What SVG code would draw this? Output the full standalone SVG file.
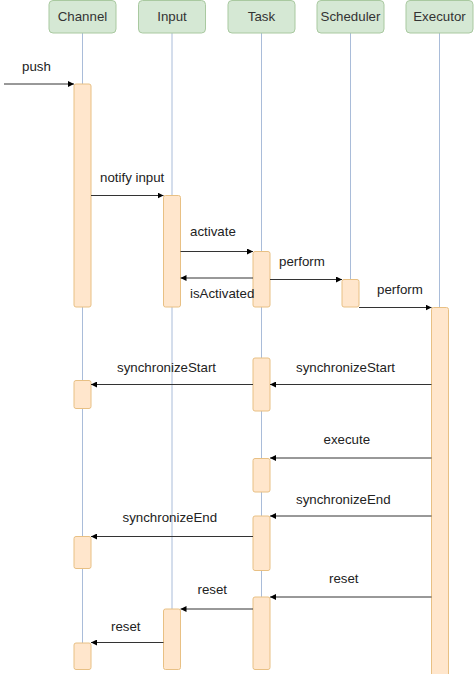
<svg xmlns="http://www.w3.org/2000/svg" width="474" height="674" viewBox="0 0 474 674">
<defs>
<style>
.hdr{fill:#d5e8d4;stroke:#a9c9a0;stroke-width:1}
.hdrt{font-family:"Liberation Sans",Arial,sans-serif;font-size:13.3px;fill:#333;text-anchor:middle}
.life{stroke:#a9bcd9;stroke-width:1;fill:none}
.act{fill:#ffe6cc;stroke:#e8c084;stroke-width:1}
.msg{stroke:#333;stroke-width:1;fill:none;marker-end:url(#ah)}
.lbl{font-family:"Liberation Sans",Arial,sans-serif;font-size:13.3px;fill:#222}
</style>
<marker id="ah" viewBox="0 0 8 8" refX="8" refY="4" markerWidth="6" markerHeight="6" markerUnits="userSpaceOnUse" orient="auto">
<path d="M0,0 L8,4 L0,8 Z" fill="#000"/>
</marker>
</defs>
<rect width="474" height="674" fill="#fff"/>
<g id="lifelines">
<line class="life" x1="82.5" y1="33" x2="82.5" y2="643"/>
<line class="life" x1="172" y1="33" x2="172" y2="609"/>
<line class="life" x1="261.5" y1="33" x2="261.5" y2="597"/>
<line class="life" x1="350.5" y1="33" x2="350.5" y2="279"/>
<line class="life" x1="439.5" y1="33" x2="439.5" y2="307"/>
</g>
<g id="channel"><rect class="hdr" x="49" y="0.5" width="67" height="32.5" rx="4"/><text class="hdrt" x="82.5" y="21">Channel</text></g>
<g id="input"><rect class="hdr" x="138.5" y="0.5" width="67" height="32.5" rx="4"/><text class="hdrt" x="172" y="21">Input</text></g>
<g id="task"><rect class="hdr" x="228" y="0.5" width="67" height="32.5" rx="4"/><text class="hdrt" x="261.5" y="21">Task</text></g>
<g id="scheduler"><rect class="hdr" x="317" y="0.5" width="67" height="32.5" rx="4"/><text class="hdrt" x="350.5" y="21">Scheduler</text></g>
<g id="executor"><rect class="hdr" x="406" y="0.5" width="67" height="32.5" rx="4"/><text class="hdrt" x="439.5" y="21">Executor</text></g>
<g id="activations">
<rect id="act-channel-1" class="act" x="74" y="84" width="17" height="223" rx="2"/>
<rect id="act-input-1" class="act" x="163.5" y="195.5" width="17" height="111.5" rx="2"/>
<rect id="act-task-1" class="act" x="253" y="251.5" width="17" height="55.5" rx="2"/>
<rect id="act-scheduler-1" class="act" x="342" y="279.5" width="17" height="27.5" rx="2"/>
<rect id="act-executor-1" class="act" x="431.5" y="307.5" width="17" height="370" rx="2"/>
<rect id="act-task-2" class="act" x="253" y="358" width="17" height="53" rx="2"/>
<rect id="act-channel-2" class="act" x="74" y="380.5" width="17" height="28" rx="2"/>
<rect id="act-task-3" class="act" x="253" y="458.5" width="17" height="33.5" rx="2"/>
<rect id="act-task-4" class="act" x="253" y="516" width="17" height="54.5" rx="2"/>
<rect id="act-channel-3" class="act" x="74" y="536.5" width="17" height="32" rx="2"/>
<rect id="act-task-5" class="act" x="253" y="597" width="17" height="72.5" rx="2"/>
<rect id="act-input-2" class="act" x="163.5" y="609" width="17" height="60.5" rx="2"/>
<rect id="act-channel-4" class="act" x="74" y="643" width="17" height="26.5" rx="2"/>
</g>
<g id="connectors">
<line class="msg" x1="4" y1="84" x2="74" y2="84"/>
<line class="msg" x1="91" y1="195.5" x2="163.5" y2="195.5"/>
<line class="msg" x1="180.5" y1="251.5" x2="253" y2="251.5"/>
<line class="msg" x1="253" y1="278" x2="180.5" y2="278"/>
<line class="msg" x1="270" y1="279.5" x2="342" y2="279.5"/>
<line class="msg" x1="359" y1="307.5" x2="431.5" y2="307.5"/>
<line class="msg" x1="431.5" y1="384.5" x2="270" y2="384.5"/>
<line class="msg" x1="253" y1="384.5" x2="91" y2="384.5"/>
<line class="msg" x1="431.5" y1="458" x2="270" y2="458"/>
<line class="msg" x1="431.5" y1="516" x2="270" y2="516"/>
<line class="msg" x1="253" y1="536.5" x2="91" y2="536.5"/>
<line class="msg" x1="431.5" y1="597" x2="270" y2="597"/>
<line class="msg" x1="253" y1="609" x2="180.5" y2="609"/>
<line class="msg" x1="163.5" y1="642.5" x2="91" y2="642.5"/>
</g>
<g id="labels">
<text class="lbl" x="22" y="71">push</text>
<text class="lbl" x="100" y="181.5">notify input</text>
<text class="lbl" x="190" y="236">activate</text>
<text class="lbl" x="190" y="297.5">isActivated</text>
<text class="lbl" x="279" y="265.5">perform</text>
<text class="lbl" x="377" y="293.5">perform</text>
<text class="lbl" x="296" y="371.5">synchronizeStart</text>
<text class="lbl" x="117" y="371.5">synchronizeStart</text>
<text class="lbl" x="323.5" y="443.5">execute</text>
<text class="lbl" x="296" y="503.5">synchronizeEnd</text>
<text class="lbl" x="122.5" y="522">synchronizeEnd</text>
<text class="lbl" x="329" y="582.5">reset</text>
<text class="lbl" x="197.5" y="594">reset</text>
<text class="lbl" x="111" y="631">reset</text>
</g>
</svg>
